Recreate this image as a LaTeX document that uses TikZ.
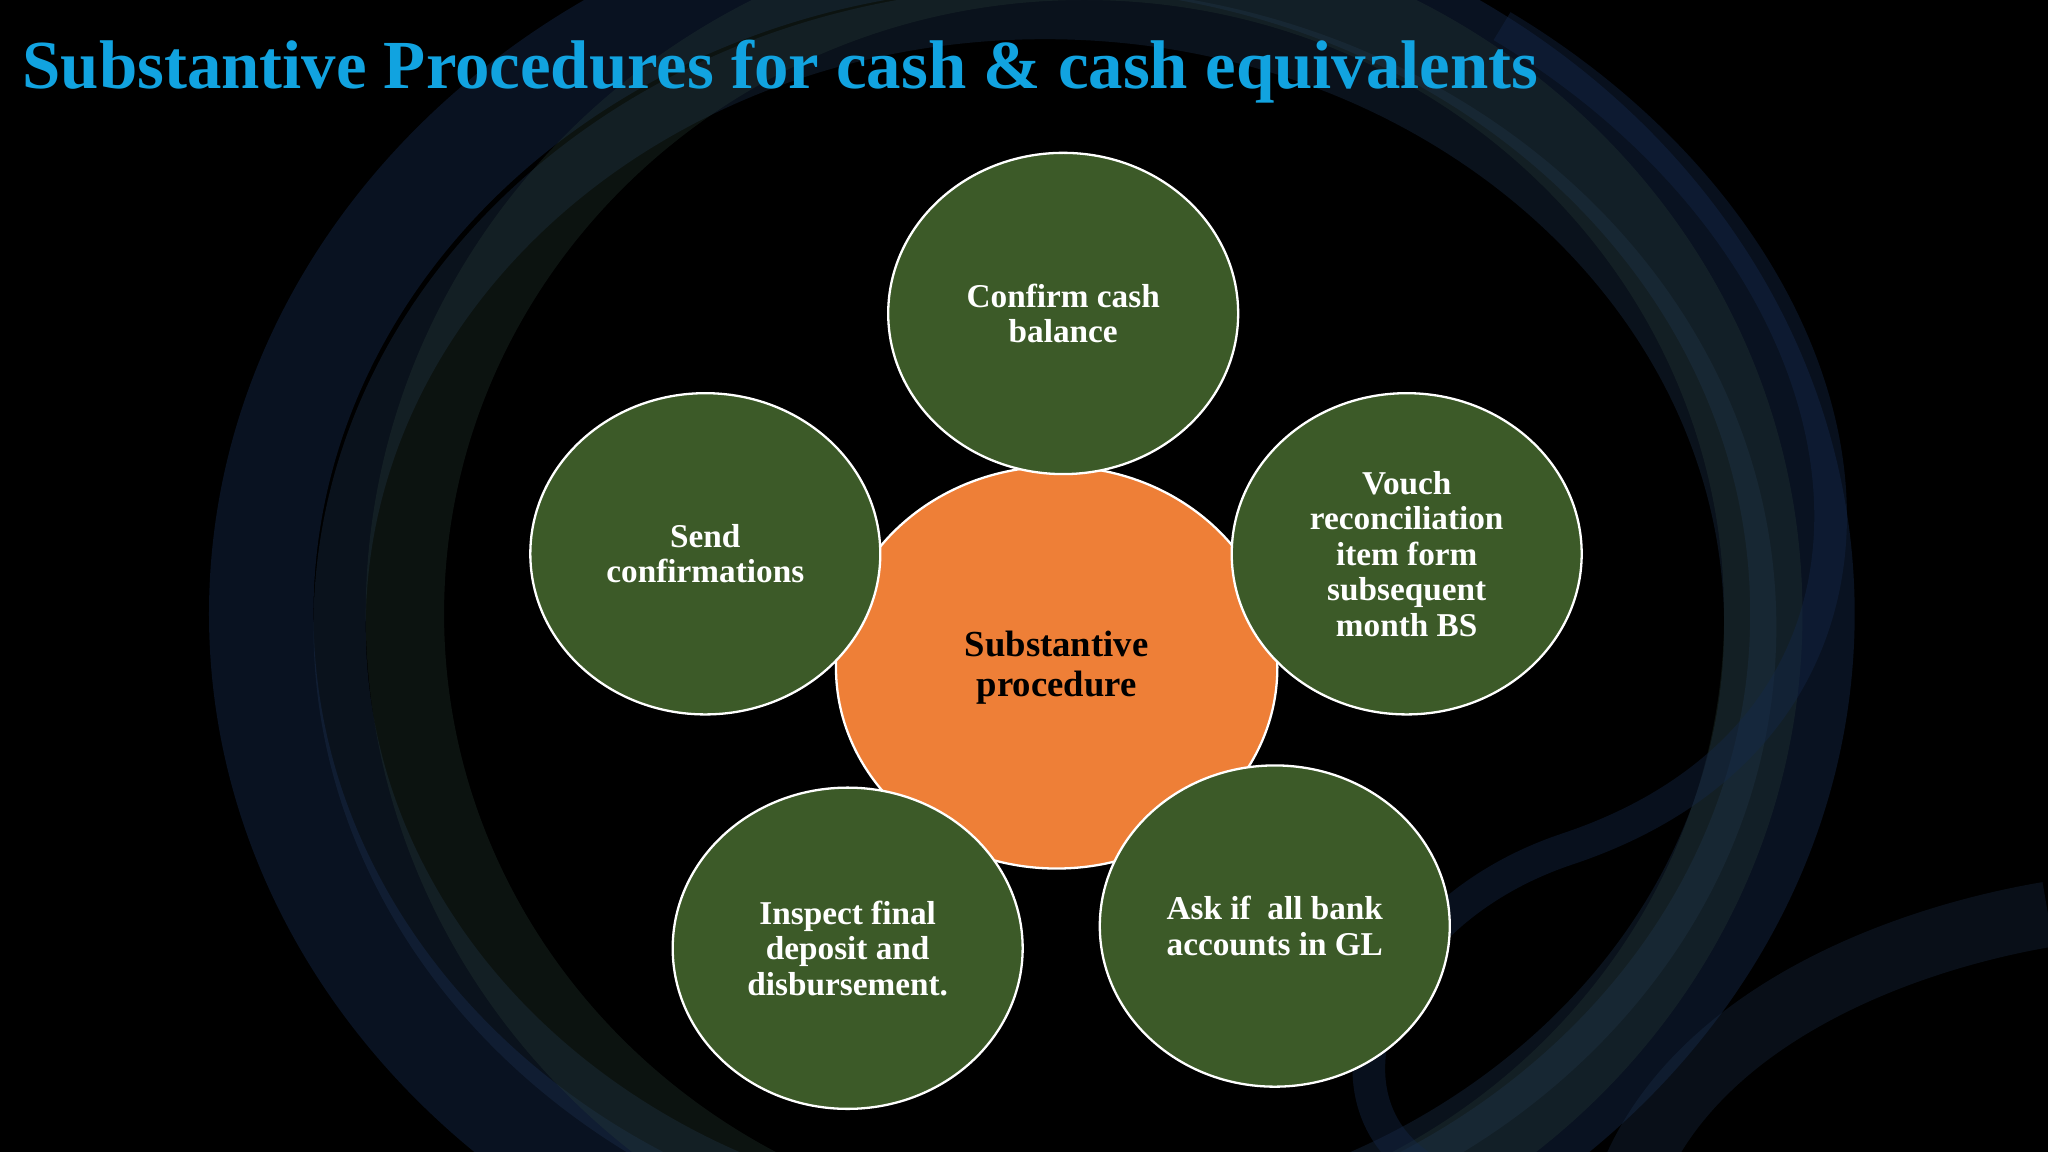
\documentclass[tikz,border=0pt]{standalone}
\usepackage{fontspec}
\setmainfont{Liberation Serif}
\usetikzlibrary{shapes.geometric}
\definecolor{gfill}{HTML}{3C5A28}
\definecolor{ofill}{HTML}{EE7F37}
\definecolor{ttl}{HTML}{11A3E0}
\definecolor{ring1}{HTML}{14284A}
\definecolor{ring2}{HTML}{1E3452}
\definecolor{ring3}{HTML}{2A4038}
\tikzset{
 bub/.style={ellipse, draw=white, line width=1pt, fill=gfill, text=white, align=center, font=\bfseries\fontsize{14.5}{15.5}\selectfont, minimum width=5.36cm, minimum height=4.92cm, inner sep=0pt},
 hub/.style={ellipse, draw=white, line width=1pt, fill=ofill, text=black, align=center, font=\bfseries\fontsize{16}{17.5}\selectfont, minimum width=6.76cm, minimum height=6.16cm, inner sep=0pt}
}
\begin{document}
\begin{tikzpicture}[x=0.02cm,y=-0.02cm]
\fill[black] (0,0) rectangle (1568,882);
\useasboundingbox (0,0) rectangle (1568,882);
\begin{scope}
\clip (0,0) rectangle (1568,882);
\draw[ring1, line width=1.6cm, opacity=0.45] (790,470) ellipse (590 and 520);
\draw[ring2, line width=0.8cm, opacity=0.35] (800,480) ellipse (540 and 470);
\draw[ring3, line width=1.2cm, opacity=0.3] (830,470) ellipse (520 and 500);
\draw[ring1, line width=0.5cm, opacity=0.4] (1150,20) .. controls (1450,200) and (1500,550) .. (1200,650) .. controls (1050,700) and (1000,850) .. (1100,900);
\draw[ring2, line width=1cm, opacity=0.3] (1568,700) .. controls (1450,720) and (1300,780) .. (1250,900);
\end{scope}
\node[anchor=base west, text=ttl, font=\bfseries\fontsize{30}{32}\selectfont] (title) at (11,68) {Substantive Procedures for cash \& cash equivalents};
\node[hub] (c) at (809,511) {Substantive\\procedure};
\node[bub] (t) at (814,240) {Confirm cash\\balance};
\node[bub] (l) at (540,424) {Send\\confirmations};
\node[bub] (r) at (1077,424) {Vouch\\reconciliation\\item form\\subsequent\\month BS};
\node[bub] (bl) at (649,726) {Inspect final\\deposit and\\disbursement.};
\node[bub] (br) at (976,709) {Ask if\ \ all bank\\accounts in GL};
\end{tikzpicture}
\end{document}
